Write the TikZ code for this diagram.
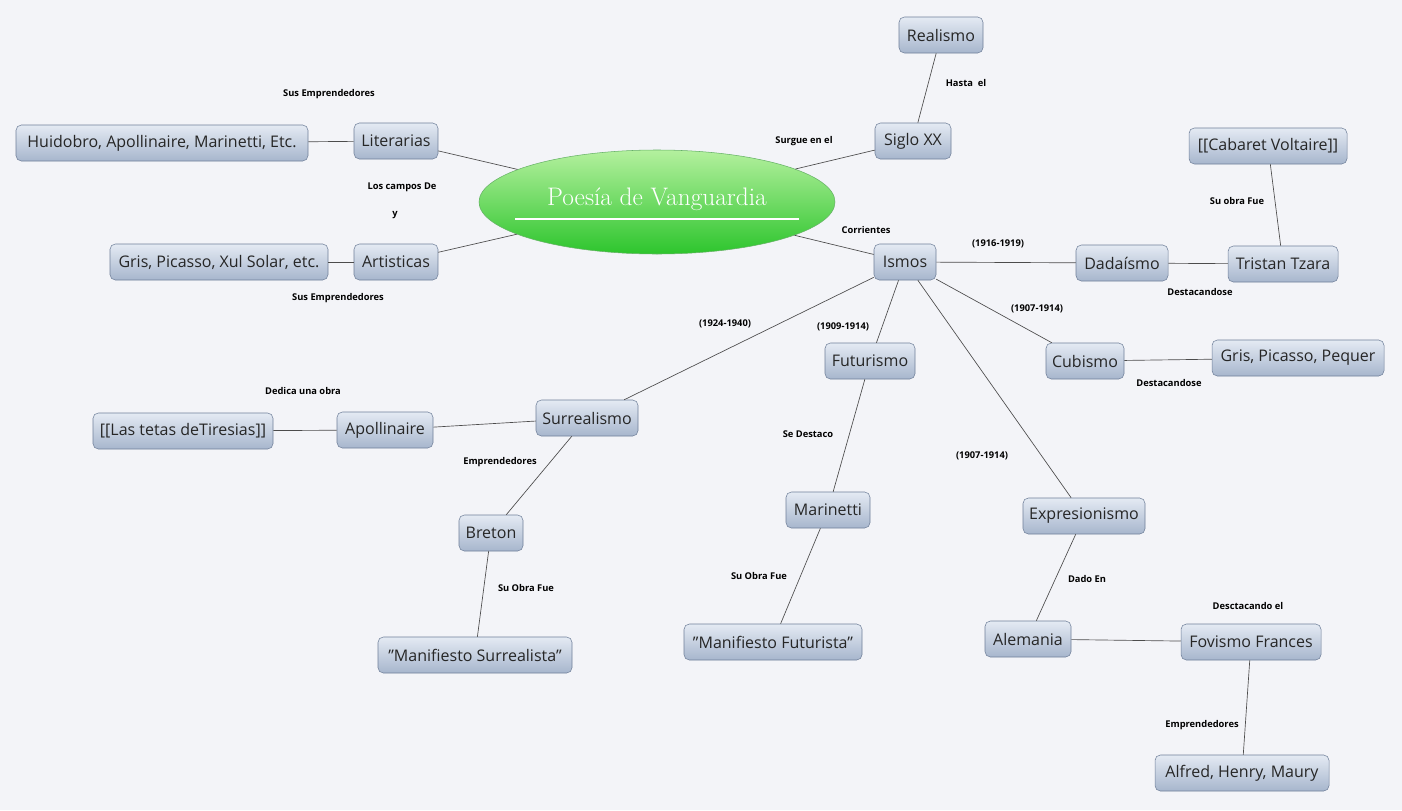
\documentclass[tikz,border=0pt]{standalone}
\usepackage{fontspec}
\setmainfont{Open Sans}
\usetikzlibrary{shapes.geometric}
\definecolor{bg}{HTML}{F3F4F8}
\definecolor{btop}{HTML}{E4EAF3}
\definecolor{bbot}{HTML}{A7B6CD}
\definecolor{bdr}{HTML}{6F7F99}
\definecolor{gtop}{HTML}{B4F09E}
\definecolor{gbot}{HTML}{2DC52D}
\tikzset{
 box/.style={draw=bdr,rounded corners=4pt,top color=btop,bottom color=bbot,font=\fontsize{12}{14}\selectfont,text=black!85,minimum height=27pt,inner xsep=3pt,minimum width=#1*0.75pt},
 lab/.style={font=\bfseries\fontsize{7}{8}\selectfont,text=black},
 con/.style={draw=black!70,line width=0.5pt}
}
\begin{document}
\begin{tikzpicture}[x=0.75pt,y=-0.75pt]
\fill[bg] (0,0) rectangle (1402,810);
\useasboundingbox (0,0) rectangle (1402,810);
\node[ellipse,draw=green!50!black!60,top color=gtop,bottom color=gbot,minimum width=356*0.75pt,minimum height=104*0.75pt] (c) at (657,202) {};
\node[font=\fontfamily{}\bfseries\fontsize{19}{22}\selectfont,text=white] (ct) at (657,199) {Poesía de Vanguardia};
\draw[white,line width=0.8pt] (515,219) -- (799,219);
\node[box=84] (real) at (941,35) {Realismo};
\node[box=76] (siglo) at (913,141) {Siglo XX};
\node[box=84] (lit) at (396,141) {Literarias};
\node[box=292] (hui) at (162,143) {Huidobro, Apollinaire, Marinetti, Etc.};
\node[box=84] (art) at (396,262) {Artisticas};
\node[box=218] (gris) at (219,262) {Gris, Picasso, Xul Solar, etc.};
\node[box=62] (ismos) at (905,262) {Ismos};
\node[box=92] (dada) at (1122,263) {Dadaísmo};
\node[box=110] (tz) at (1283,264) {Tristan Tzara};
\node[box=158] (cab) at (1268,146) {[[Cabaret Voltaire]]};
\node[box=78] (cub) at (1085,361) {Cubismo};
\node[box=172] (gpp) at (1298,358) {Gris, Picasso, Pequer};
\node[box=90] (fut) at (870,361) {Futurismo};
\node[box=84] (mar) at (828,510) {Marinetti};
\node[box=178] (mf) at (773,642) {"Manifiesto Futurista"};
\node[box=122] (exp) at (1084,516) {Expresionismo};
\node[box=86] (ale) at (1028,639) {Alemania};
\node[box=140] (fov) at (1251,642) {Fovismo Frances};
\node[box=174] (alf) at (1242,773) {Alfred, Henry, Maury};
\node[box=102] (sur) at (587,418) {Surrealismo};
\node[box=96] (apo) at (385,430) {Apollinaire};
\node[box=180] (las) at (183,431) {[[Las tetas deTiresias]]};
\node[box=64] (bre) at (491,533) {Breton};
\node[box=194] (ms) at (475,655) {"Manifiesto Surrealista"};
\draw[con] (real)--(siglo); \draw[con] (siglo)--(c);
\draw[con] (lit)--(c); \draw[con] (hui)--(lit);
\draw[con] (art)--(c); \draw[con] (gris)--(art);
\draw[con] (c)--(ismos); \draw[con] (ismos)--(dada); \draw[con] (dada)--(tz); \draw[con] (tz)--(cab);
\draw[con] (ismos)--(cub); \draw[con] (cub)--(gpp);
\draw[con] (ismos)--(fut); \draw[con] (fut)--(mar); \draw[con] (mar)--(mf);
\draw[con] (ismos)--(exp); \draw[con] (exp)--(ale); \draw[con] (ale)--(fov); \draw[con] (fov)--(alf);
\draw[con] (ismos)--(sur); \draw[con] (sur)--(apo); \draw[con] (apo)--(las);
\draw[con] (sur)--(bre); \draw[con] (bre)--(ms);
\node[lab] (l1) at (966,83) {Hasta\ \ el};
\node[lab] (l2) at (804,141) {Surgue en el};
\node[lab] (l3) at (329,94) {Sus Emprendedores};
\node[lab] (l4) at (402,187) {Los campos De};
\node[lab] (l5) at (395,215) {y};
\node[lab] (l6) at (338,298) {Sus Emprendedores};
\node[lab] (l7) at (866,230) {Corrientes};
\node[lab] (l8) at (998,244) {(1916-1919)};
\node[lab] (l9) at (1237,201) {Su obra Fue};
\node[lab] (l10) at (1200,292) {Destacandose};
\node[lab] (l11) at (1037,309) {(1907-1914)};
\node[lab] (l12) at (1169,383) {Destacandose};
\node[lab] (l13) at (725,324) {(1924-1940)};
\node[lab] (l14) at (843,327) {(1909-1914)};
\node[lab] (l15) at (303,391) {Dedica una obra};
\node[lab] (l16) at (500,462) {Emprendedores};
\node[lab] (l17) at (808,434) {Se Destaco};
\node[lab] (l18) at (982,456) {(1907-1914)};
\node[lab] (l19) at (526,588) {Su Obra Fue};
\node[lab] (l20) at (759,576) {Su Obra Fue};
\node[lab] (l21) at (1087,579) {Dado En};
\node[lab] (l22) at (1248,606) {Desctacando el};
\node[lab] (l23) at (1202,725) {Emprendedores};
\end{tikzpicture}
\end{document}
